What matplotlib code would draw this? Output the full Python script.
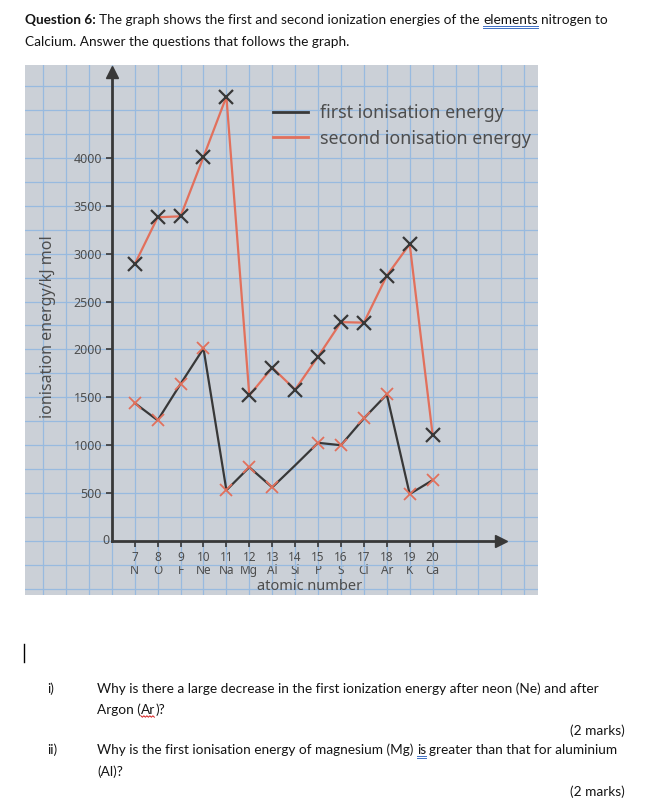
import numpy as np
import matplotlib
matplotlib.use('Agg')
import matplotlib.pyplot as plt
from matplotlib.lines import Line2D
from matplotlib.ticker import MultipleLocator

W, H = 670, 810

# data
elements = ['N', 'O', 'F', 'Ne', 'Na', 'Mg', 'Al', 'Si', 'P', 'S', 'Cl', 'Ar', 'K', 'Ca']
atomic_number = [7, 8, 9, 10, 11, 12, 13, 14, 15, 16, 17, 18, 19, 20]
first_ie = [1440, 1260, 1640, 2010, 530, 770, 560, 790, 1025, 1000, 1280, 1530, 490, 635]
second_ie = [2890, 3380, 3390, 4010, 4640, 1520, 1810, 1580, 1925, 2285, 2280, 2770, 3100, 1110]
y_ticks = [500, 1000, 1500, 2000, 2500, 3000, 3500, 4000]
legend_labels = ['first ionisation energy', 'second ionisation energy']

PAGE_FONT = ['Lato', 'DejaVu Sans']
CHART_FONT = ['Noto Sans', 'DejaVu Sans']
TXT = '#141414'
BG = '#cbd0d7'
GRID = '#98badf'
DARK = '#383838'
RED = '#e2705c'
GREY = '#4d4d4d'

fig = plt.figure(figsize=(W / 100, H / 100), dpi=100)
r = fig.canvas.get_renderer()


def width(s, size, weight='normal', family=PAGE_FONT):
    t = fig.text(0, 0, s, fontsize=size, fontweight=weight, family=family)
    w = t.get_window_extent(r).width
    t.remove()
    return w


# font size so that a full line has the same width as in the picture
line_i = 'Why is there a large decrease in the first ionization energy after neon (Ne) and after'
fs = 10 * 498 / width(line_i, 10)
gap = width('a a', fs) - width('aa', fs)


def run(parts, x, y, size=fs):
    boxes = []
    for i, (s, w, sp) in enumerate(parts):
        if i and sp:
            x += gap
        t = fig.text(x / W, 1 - y / H, s, fontsize=size, fontweight=w, family=PAGE_FONT,
                     va='center_baseline', color=TXT)
        bb = t.get_window_extent(r)
        boxes.append(bb)
        x = bb.x1
    return boxes


def double_line(bb, color='#3d6fc4'):
    for dy in (0.5, -1.5):
        fig.add_artist(Line2D([bb.x0 / W, bb.x1 / W], [(bb.y0 + dy) / H] * 2, lw=0.7, color=color))


def wavy(bb, color='#d42020'):
    xs = np.arange(bb.x0, bb.x1 + 0.1, 1.5)
    ys = bb.y0 + np.where(np.arange(len(xs)) % 2 == 0, 0.2, -1.2)
    fig.add_artist(Line2D(xs / W, ys / H, lw=0.7, color=color))


# question text
b = run([('Question 6:', 'bold', False),
         ('The graph shows the first and second ionization energies of the', 'normal', True),
         ('elements', 'normal', True),
         ('nitrogen to', 'normal', True)], 25, 19)
double_line(b[2])
run([('Calcium. Answer the questions that follows the graph.', 'normal', False)], 25, 41)

# text cursor
fig.add_artist(Line2D([24 / W, 24 / W], [1 - 644 / H, 1 - 662 / H], lw=1, color='black'))

run([('i)', 'normal', False)], 47, 688)
run([(line_i, 'normal', False)], 97, 688)
b = run([('Argon (', 'normal', False), ('Ar', 'normal', False), (')?', 'normal', False)], 97, 709)
wavy(b[1])
fig.text(625 / W, 1 - 730 / H, '(2 marks)', fontsize=fs, family=PAGE_FONT, ha='right',
         va='center_baseline', color=TXT)
run([('ii)', 'normal', False)], 47, 749)
b = run([('Why is the first ionisation energy of magnesium (Mg)', 'normal', False),
         ('is', 'normal', True),
         ('greater than that for aluminium', 'normal', True)], 97, 749)
double_line(b[1])
run([('(Al)?', 'normal', False)], 97, 771)
fig.text(625 / W, 1 - 791 / H, '(2 marks)', fontsize=fs, family=PAGE_FONT, ha='right',
         va='center_baseline', color=TXT)

# the graph (photo area)
ax = fig.add_axes([25 / W, 1 - 595 / H, 513 / W, 530 / H])
ax.set_xlim(2.21, 24.6)
ax.set_ylim(-564, 4970)
ax.set_facecolor(BG)

ax.xaxis.set_minor_locator(MultipleLocator(1))
ax.yaxis.set_minor_locator(MultipleLocator(250))
ax.grid(True, which='both', color=GRID, lw=0.9)
ax.set_axisbelow(True)

for s in ['top', 'right']:
    ax.spines[s].set_visible(False)
ax.spines['left'].set_position(('data', 6))
ax.spines['bottom'].set_position(('data', 0))
ax.spines['left'].set_bounds(0, 4880)
ax.spines['bottom'].set_bounds(6, 22.8)
for s in ['left', 'bottom']:
    ax.spines[s].set_color(DARK)
    ax.spines[s].set_linewidth(2)
ax.plot([23.0], [0], marker='>', ms=9, color=DARK, clip_on=False)
ax.plot([6], [4900], marker='^', ms=9, color=DARK, clip_on=False)

ax.set_yticks(y_ticks)
ax.set_yticklabels([str(v) for v in y_ticks], family=CHART_FONT, fontsize=9, color=GREY)
ax.set_xticks(atomic_number)
ax.set_xticklabels([f'{n}\n{e}' for n, e in zip(atomic_number, elements)],
                   family=CHART_FONT, fontsize=8.5, color=GREY, linespacing=1.0)
ax.tick_params(which='major', color=DARK, width=1.2, length=4, pad=3)
ax.tick_params(which='minor', length=0)
ax.text(5.75, 0, '0', family=CHART_FONT, fontsize=9, color=GREY, ha='center', va='center')

# second ionisation energy: red line, black crosses
ax.plot(atomic_number, second_ie, color=RED, lw=1.6, marker='x', ms=10,
        mec=DARK, mew=1.6, zorder=3)
# first ionisation energy: black line, red crosses (no cross at Si)
ax.plot(atomic_number, first_ie, color=DARK, lw=1.6, marker='x', ms=8,
        mec=RED, mew=1.3, markevery=[i for i in range(len(elements)) if elements[i] != 'Si'],
        zorder=3)

lfs = 12 * 183 / width(legend_labels[0], 12, family=CHART_FONT)
lpx = lfs * 100 / 72
handles = [Line2D([], [], color=DARK, lw=2), Line2D([], [], color=RED, lw=2)]
ax.legend(handles, legend_labels, loc='upper left', bbox_to_anchor=((273 - 25) / 513, 1 - (104 - 65) / 530),
          frameon=False, borderpad=0, borderaxespad=0, handlelength=35 / lpx,
          handletextpad=12 / lpx, labelspacing=0.42,
          prop={'family': CHART_FONT, 'size': lfs}, labelcolor=GREY)

ax.text((48 - 25) / 513, 1 - (327 - 65) / 530, 'ionisation energy/kJ mol', transform=ax.transAxes,
        rotation=90, ha='center', va='center', family=CHART_FONT, fontsize=11.5, color=GREY)
ax.text((310 - 25) / 513, 1 - (586 - 65) / 530, 'atomic number', transform=ax.transAxes,
        ha='center', va='center', family=CHART_FONT, fontsize=10.5, color=GREY)

fig.savefig('out.png', dpi=100, facecolor='white')
